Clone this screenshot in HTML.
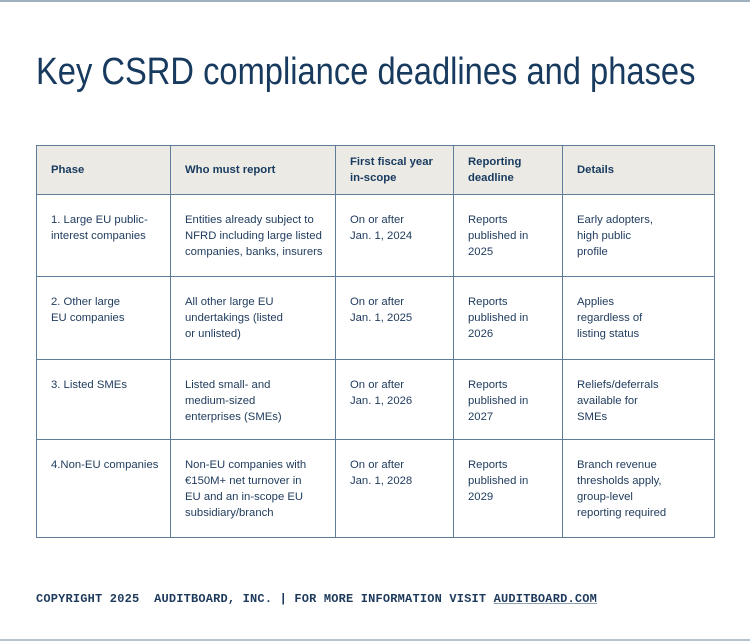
<!DOCTYPE html>
<html><head><meta charset="utf-8"><style>
body{margin:0;width:750px;height:641px;background:#fff;position:relative;overflow:hidden;font-family:"Liberation Sans",sans-serif;color:#1d3a5c}
.bt{position:absolute;left:0;top:0;width:750px;height:2px;background:#9fb0bf}
.bb{position:absolute;left:0;top:639px;width:750px;height:2px;background:#b7c4cf}
h1{position:absolute;left:36px;top:50px;margin:0;font-weight:normal;font-size:38px;line-height:44px;white-space:nowrap;transform-origin:0 0;transform:scaleX(0.86);color:#173a5e}
table{position:absolute;left:36px;top:145px;border-collapse:collapse;font-size:11.3px;line-height:16px;table-layout:fixed;width:678px}
td,th{border:1.5px solid #5f7d98;padding:0 4px 0 14px;text-align:left;vertical-align:top;white-space:nowrap;overflow:hidden}
th{background:#ebeae5;font-weight:bold;vertical-align:middle;height:48px;color:#173a5e}
td{padding-top:17px}
.f{position:absolute;left:36px;top:592px;font-family:"Liberation Mono",monospace;font-size:12px;font-weight:bold;letter-spacing:0.18px;color:#1d3a5c;white-space:pre}
.f u{text-decoration-color:#8fa3b5}
</style></head><body>
<div class="bt"></div>
<h1>Key CSRD compliance deadlines and phases</h1>
<table>
<colgroup><col style="width:134px"><col style="width:165px"><col style="width:118px"><col style="width:109px"><col style="width:152px"></colgroup>
<tr><th>Phase</th><th>Who must report</th><th>First fiscal year<br>in-scope</th><th>Reporting<br>deadline</th><th>Details</th></tr>
<tr style="height:82px"><td>1. Large EU public-<br>interest companies</td><td>Entities already subject to<br>NFRD including large listed<br>companies, banks, insurers</td><td>On or after<br>Jan. 1, 2024</td><td>Reports<br>published in<br>2025</td><td>Early adopters,<br>high public<br>profile</td></tr>
<tr style="height:83px"><td>2. Other large<br>EU companies</td><td>All other large EU<br>undertakings (listed<br>or unlisted)</td><td>On or after<br>Jan. 1, 2025</td><td>Reports<br>published in<br>2026</td><td>Applies<br>regardless of<br>listing status</td></tr>
<tr style="height:80px"><td>3. Listed SMEs</td><td>Listed small- and<br>medium-sized<br>enterprises (SMEs)</td><td>On or after<br>Jan. 1, 2026</td><td>Reports<br>published in<br>2027</td><td>Reliefs/deferrals<br>available for<br>SMEs</td></tr>
<tr style="height:98px"><td>4.Non-EU companies</td><td>Non-EU companies with<br>€150M+ net turnover in<br>EU and an in-scope EU<br>subsidiary/branch</td><td>On or after<br>Jan. 1, 2028</td><td>Reports<br>published in<br>2029</td><td>Branch revenue<br>thresholds apply,<br>group-level<br>reporting required</td></tr>
</table>
<div class="f">COPYRIGHT 2025  AUDITBOARD, INC. | FOR MORE INFORMATION VISIT <u>AUDITBOARD.COM</u></div>
<div class="bb"></div>
</body></html>
